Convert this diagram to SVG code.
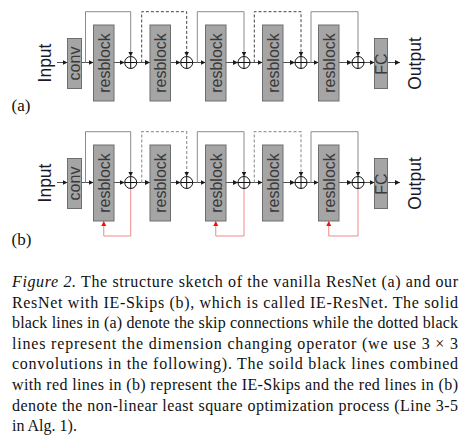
<svg xmlns="http://www.w3.org/2000/svg" width="465" height="445" viewBox="0 0 465 445">
<style>
.box{fill:#a5a5a5;stroke:#6e6e6e;stroke-width:1}
.lbl{font-family:"Liberation Sans",Arial,sans-serif;font-size:16px;fill:#3a3a3a;text-anchor:middle}
.io{font-family:"Liberation Sans",Arial,sans-serif;font-size:17.5px;fill:#1a1a2a;text-anchor:middle}
.sum{fill:#fff;stroke:#111;stroke-width:1}
.flow{fill:none;stroke:#505050;stroke-width:1;marker-end:url(#ah)}
.skip{fill:none;stroke:#8c8c8c;stroke-width:1;marker-end:url(#ah)}
.dash{fill:none;stroke:#444;stroke-width:1;stroke-dasharray:3 2;marker-end:url(#ah)}
.dashb{fill:none;stroke:#9a9a9a;stroke-width:1.2;stroke-dasharray:3 2;marker-end:url(#ah)}
.red{fill:none;stroke:#f08a8a;stroke-width:1;marker-end:url(#ahr)}
.pl{font-family:"Liberation Serif","Times New Roman",serif;font-size:17px;fill:#111}
.cap{font-family:"Liberation Serif","Times New Roman",serif;font-size:16px;fill:#111}
</style>
<defs>
<marker id="ah" viewBox="0 0 5 5" refX="5" refY="2.5" markerWidth="5" markerHeight="5" markerUnits="userSpaceOnUse" orient="auto"><path d="M0,0 L5,2.5 L0,5 Z" fill="#1a1a1a"/></marker>
<marker id="ahr" viewBox="0 0 5 5" refX="5" refY="2.5" markerWidth="5" markerHeight="5" markerUnits="userSpaceOnUse" orient="auto"><path d="M0,0 L5,2.5 L0,5 Z" fill="#ee1111"/></marker>
<g id="sumsym"><circle class="sum" cx="0" cy="0" r="6"/><path d="M-6,0 H6 M0,-6 V6" stroke="#111" stroke-width="1"/></g>
</defs>

<!-- Panel (a) -->
<g id="panel-a">
<g id="connectors-a">
<path class="flow" d="M57,62.5 H67.5"/>
<path class="flow" d="M81.5,62.5 H93.5"/>
<path class="flow" d="M114,62.5 H124.7"/>
<path class="flow" d="M136.7,62.5 H150"/>
<path class="flow" d="M170.5,62.5 H180.7"/>
<path class="flow" d="M192.7,62.5 H205.5"/>
<path class="flow" d="M226,62.5 H238"/>
<path class="flow" d="M250,62.5 H262.5"/>
<path class="flow" d="M283,62.5 H295"/>
<path class="flow" d="M307,62.5 H318.5"/>
<path class="flow" d="M339,62.5 H352"/>
<path class="flow" d="M364,62.5 H374.5"/>
<path class="flow" d="M387.5,62.5 H400"/>
<path class="skip" d="M85.5,62.5 V11.7 H130.7 V56.5"/>
<path class="dash" d="M141.7,62.5 V11.7 H186.7 V56.5"/>
<path class="skip" d="M197.3,62.5 V11.7 H244 V56.5"/>
<path class="dash" d="M254.3,62.5 V11.7 H301 V56.5"/>
<path class="skip" d="M311,62.5 V11.7 H358 V56.5"/>
</g>
<g id="input-a"><text class="io" transform="translate(51,63) rotate(-90)">Input</text></g>
<g id="conv-a"><rect class="box" x="67.5" y="38.5" width="14" height="50"/><text class="lbl" transform="translate(79.6,63.5) rotate(-90)">conv</text></g>
<g id="resblock1-a"><rect class="box" x="93.5" y="25" width="20.5" height="76"/><text class="lbl" transform="translate(109.7,63) rotate(-90)">resblock</text></g>
<g id="sum1-a"><use href="#sumsym" x="130.7" y="62.5"/></g>
<g id="resblock2-a"><rect class="box" x="150" y="25" width="20.5" height="76"/><text class="lbl" transform="translate(166.2,63) rotate(-90)">resblock</text></g>
<g id="sum2-a"><use href="#sumsym" x="186.7" y="62.5"/></g>
<g id="resblock3-a"><rect class="box" x="205.5" y="25" width="20.5" height="76"/><text class="lbl" transform="translate(221.7,63) rotate(-90)">resblock</text></g>
<g id="sum3-a"><use href="#sumsym" x="244" y="62.5"/></g>
<g id="resblock4-a"><rect class="box" x="262.5" y="25" width="20.5" height="76"/><text class="lbl" transform="translate(278.7,63) rotate(-90)">resblock</text></g>
<g id="sum4-a"><use href="#sumsym" x="301" y="62.5"/></g>
<g id="resblock5-a"><rect class="box" x="318.5" y="25" width="20.5" height="76"/><text class="lbl" transform="translate(334.7,63) rotate(-90)">resblock</text></g>
<g id="sum5-a"><use href="#sumsym" x="358" y="62.5"/></g>
<g id="fc-a"><rect class="box" x="374.5" y="38.5" width="13" height="50"/><text class="lbl" transform="translate(386.6,64) rotate(-90)">FC</text></g>
<g id="output-a"><text class="io" transform="translate(420.5,63.5) rotate(-90)">Output</text></g>
<text class="pl" x="11.5" y="111">(a)</text>
</g>

<!-- Panel (b) -->
<g id="panel-b" transform="translate(0,120)">
<g id="connectors-b">
<path class="flow" d="M57,62.5 H67.5"/>
<path class="flow" d="M81.5,62.5 H93.5"/>
<path class="flow" d="M114,62.5 H124.7"/>
<path class="flow" d="M136.7,62.5 H150"/>
<path class="flow" d="M170.5,62.5 H180.7"/>
<path class="flow" d="M192.7,62.5 H205.5"/>
<path class="flow" d="M226,62.5 H238"/>
<path class="flow" d="M250,62.5 H262.5"/>
<path class="flow" d="M283,62.5 H295"/>
<path class="flow" d="M307,62.5 H318.5"/>
<path class="flow" d="M339,62.5 H352"/>
<path class="flow" d="M364,62.5 H374.5"/>
<path class="flow" d="M387.5,62.5 H400"/>
<path class="skip" d="M85.5,62.5 V11.7 H130.7 V56.5"/>
<path class="dashb" d="M141.7,62.5 V11.7 H186.7 V56.5"/>
<path class="skip" d="M197.3,62.5 V11.7 H244 V56.5"/>
<path class="dashb" d="M254.3,62.5 V11.7 H301 V56.5"/>
<path class="skip" d="M311,62.5 V11.7 H358 V56.5"/>
<path class="red" d="M130.7,68.5 V116 H103.75 V101"/>
<path class="red" d="M244,68.5 V116 H215.75 V101"/>
<path class="red" d="M358,68.5 V116 H328.75 V101"/>
</g>
<g id="input-b"><text class="io" transform="translate(51,63) rotate(-90)">Input</text></g>
<g id="conv-b"><rect class="box" x="67.5" y="38.5" width="14" height="50"/><text class="lbl" transform="translate(79.6,63.5) rotate(-90)">conv</text></g>
<g id="resblock1-b"><rect class="box" x="93.5" y="25" width="20.5" height="76"/><text class="lbl" transform="translate(109.7,63) rotate(-90)">resblock</text></g>
<g id="sum1-b"><use href="#sumsym" x="130.7" y="62.5"/></g>
<g id="resblock2-b"><rect class="box" x="150" y="25" width="20.5" height="76"/><text class="lbl" transform="translate(166.2,63) rotate(-90)">resblock</text></g>
<g id="sum2-b"><use href="#sumsym" x="186.7" y="62.5"/></g>
<g id="resblock3-b"><rect class="box" x="205.5" y="25" width="20.5" height="76"/><text class="lbl" transform="translate(221.7,63) rotate(-90)">resblock</text></g>
<g id="sum3-b"><use href="#sumsym" x="244" y="62.5"/></g>
<g id="resblock4-b"><rect class="box" x="262.5" y="25" width="20.5" height="76"/><text class="lbl" transform="translate(278.7,63) rotate(-90)">resblock</text></g>
<g id="sum4-b"><use href="#sumsym" x="301" y="62.5"/></g>
<g id="resblock5-b"><rect class="box" x="318.5" y="25" width="20.5" height="76"/><text class="lbl" transform="translate(334.7,63) rotate(-90)">resblock</text></g>
<g id="sum5-b"><use href="#sumsym" x="358" y="62.5"/></g>
<g id="fc-b"><rect class="box" x="374.5" y="38.5" width="13" height="50"/><text class="lbl" transform="translate(386.6,64) rotate(-90)">FC</text></g>
<g id="output-b"><text class="io" transform="translate(420.5,63.5) rotate(-90)">Output</text></g>
<text class="pl" x="11.5" y="125">(b)</text>
</g>

<!-- Caption -->
<g id="caption" class="cap">
<text class="cap" x="12" y="287" textLength="446" lengthAdjust="spacing"><tspan font-style="italic">Figure 2.</tspan> The structure sketch of the vanilla ResNet (a) and our</text>
<text class="cap" x="12" y="307.6" textLength="446" lengthAdjust="spacing">ResNet with IE-Skips (b), which is called IE-ResNet. The solid</text>
<text class="cap" x="12" y="328.2" textLength="446" lengthAdjust="spacing">black lines in (a) denote the skip connections while the dotted black</text>
<text class="cap" x="12" y="348.8" textLength="446" lengthAdjust="spacing">lines represent the dimension changing operator (we use 3 × 3</text>
<text class="cap" x="12" y="369.4" textLength="446" lengthAdjust="spacing">convolutions in the following). The soild black lines combined</text>
<text class="cap" x="12" y="390" textLength="446" lengthAdjust="spacing">with red lines in (b) represent the IE-Skips and the red lines in (b)</text>
<text class="cap" x="12" y="410.6" textLength="446" lengthAdjust="spacing">denote the non-linear least square optimization process (Line 3-5</text>
<text class="cap" x="12" y="431.2">in Alg. 1).</text>
</g>
</svg>
